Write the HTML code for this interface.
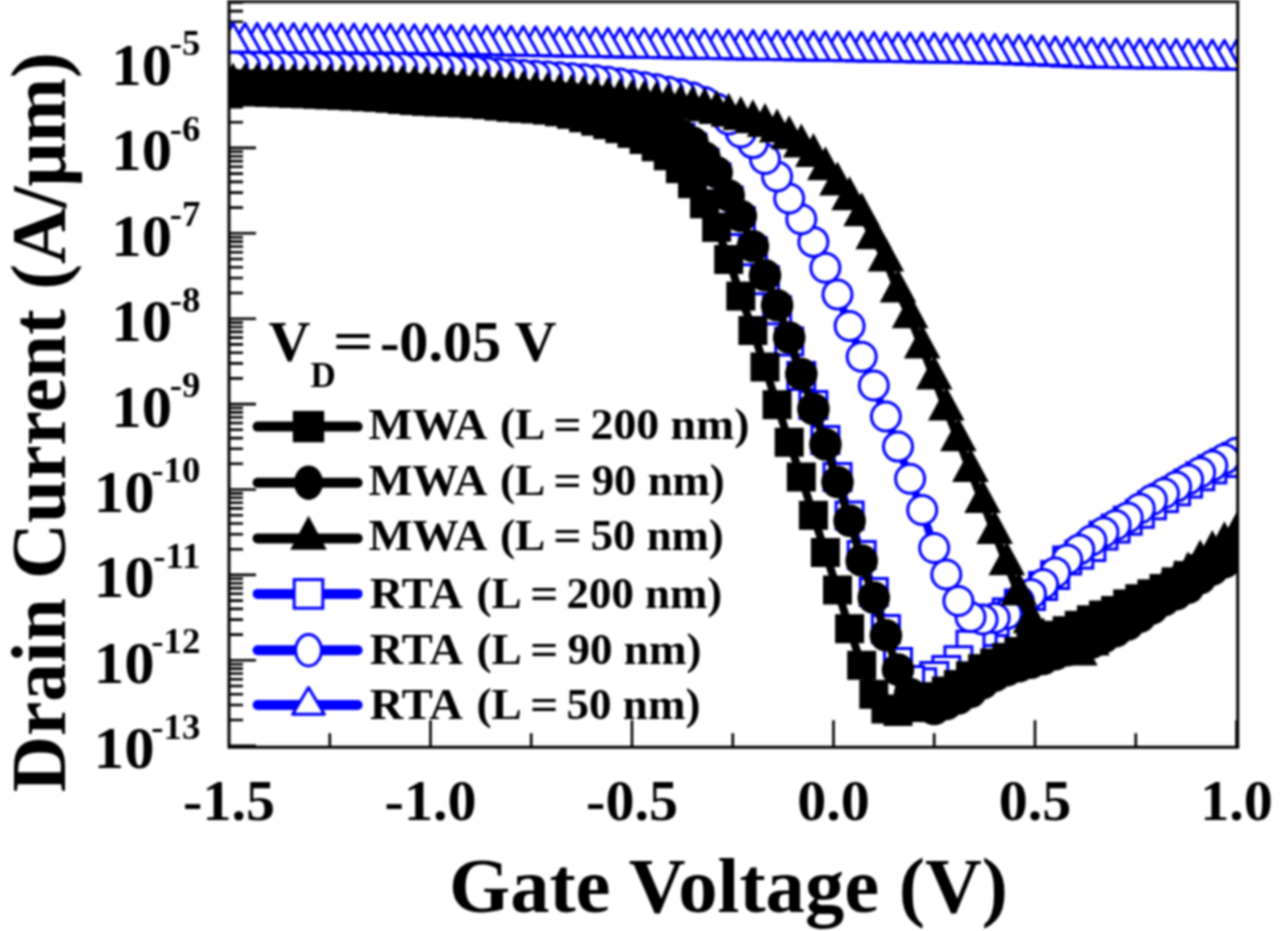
<!DOCTYPE html>
<html><head><meta charset="utf-8"><title>Drain current vs gate voltage</title>
<style>html,body{margin:0;padding:0;background:#fff;width:1280px;height:931px;overflow:hidden} svg{display:block;filter:blur(0.8px)}</style>
</head><body>
<svg width="1280" height="931" viewBox="0 0 1280 931">
<rect width="1280" height="931" fill="#fff"/>
<defs><clipPath id="pc"><rect x="229.0" y="1.2" width="1008.7" height="746.0999999999999"/></clipPath></defs>
<path d="M229.0 745.7h27M229.0 720h14M229.0 705h14M229.0 694.3h14M229.0 686h14M229.0 679.2h14M229.0 673.5h14M229.0 668.6h14M229.0 664.2h14M229.0 660.3h27M229.0 634.6h14M229.0 619.6h14M229.0 608.9h14M229.0 600.6h14M229.0 593.8h14M229.0 588.1h14M229.0 583.2h14M229.0 578.8h14M229.0 574.9h27M229.0 549.2h14M229.0 534.2h14M229.0 523.5h14M229.0 515.2h14M229.0 508.4h14M229.0 502.7h14M229.0 497.8h14M229.0 493.4h14M229.0 489.5h27M229.0 463.8h14M229.0 448.8h14M229.0 438.1h14M229.0 429.8h14M229.0 423h14M229.0 417.3h14M229.0 412.4h14M229.0 408h14M229.0 404.1h27M229.0 378.4h14M229.0 363.4h14M229.0 352.7h14M229.0 344.4h14M229.0 337.6h14M229.0 331.9h14M229.0 327h14M229.0 322.6h14M229.0 318.7h27M229.0 293h14M229.0 278h14M229.0 267.3h14M229.0 259h14M229.0 252.2h14M229.0 246.5h14M229.0 241.6h14M229.0 237.2h14M229.0 233.3h27M229.0 207.6h14M229.0 192.6h14M229.0 181.9h14M229.0 173.6h14M229.0 166.8h14M229.0 161.1h14M229.0 156.2h14M229.0 151.8h14M229.0 147.9h27M229.0 122.2h14M229.0 107.2h14M229.0 96.5h14M229.0 88.2h14M229.0 81.4h14M229.0 75.7h14M229.0 70.8h14M229.0 66.4h14M229.0 62.5h27M229.0 36.8h14M229.0 21.8h14M229.0 11.1h14M229.0 2.8h14M329.8 747.3v-14M430.5 747.3v-27M531.2 747.3v-14M632 747.3v-27M732.8 747.3v-14M833.5 747.3v-27M934.2 747.3v-14M1035 747.3v-27M1135.8 747.3v-14M1236.5 747.3v-27" stroke="#000" stroke-width="2.6" fill="none"/>
<g clip-path="url(#pc)">
<path d="M1236.5 456.8 L1224.4 463 L1212.3 469.4 L1200.2 476.3 L1188.1 483.6 L1176.1 491.3 L1164 498.1 L1151.9 505.3 L1139.8 513.8 L1127.7 520.7 L1115.6 528.6 L1103.5 535.6 L1091.4 547 L1079.3 554.6 L1067.2 560.5 L1055.2 575 L1043.1 586 L1031 596 L1018.9 603.5 L1006.8 612.4 L994.7 622.1 L982.6 632 L970.5 644.7 L958.4 660.2 L946.3 670 L934.2 676 L922.2 682.3 L910.1 680 L898 662 L885.9 629 L873.8 592 L861.7 555 L849.6 515.5 L837.5 477 L825.4 440 L813.4 405 L801.3 376 L789.2 341.5 L777.1 310.3 L765 280.2 L752.9 251.2 L740.8 221 L728.7 200.6 L716.6 177.4 L704.5 162.6 L692.5 147.5 L680.4 137.7 L668.3 129.4 L656.2 121.4 L644.1 115.2 L632 110.6 L619.9 107.3 L607.8 104.5 L595.7 102.4 L583.6 101 L571.5 99.8 L559.5 98.8 L547.4 97.9 L535.3 96.9 L523.2 96 L511.1 95.1 L499 94.3 L486.9 93.6 L474.8 93 L462.7 92.4 L450.6 91.9 L438.6 91.4 L426.5 90.9 L414.4 90.5 L402.3 90.1 L390.2 89.8 L378.1 89.5 L366 89.2 L353.9 89 L341.8 88.8 L329.8 88.6 L317.7 88.4 L305.6 88.3 L293.5 88.1 L281.4 88 L269.3 87.8 L257.2 87.6 L245.1 87.4 L233 87.1" fill="none" stroke="#0000ff" stroke-width="8" stroke-linejoin="round"/>
<rect x="1223" y="443.3" width="27" height="27" fill="#fff" stroke="#0000ff" stroke-width="3"/>
<rect x="1210.9" y="449.5" width="27" height="27" fill="#fff" stroke="#0000ff" stroke-width="3"/>
<rect x="1198.8" y="455.9" width="27" height="27" fill="#fff" stroke="#0000ff" stroke-width="3"/>
<rect x="1186.7" y="462.8" width="27" height="27" fill="#fff" stroke="#0000ff" stroke-width="3"/>
<rect x="1174.6" y="470.1" width="27" height="27" fill="#fff" stroke="#0000ff" stroke-width="3"/>
<rect x="1162.6" y="477.8" width="27" height="27" fill="#fff" stroke="#0000ff" stroke-width="3"/>
<rect x="1150.5" y="484.6" width="27" height="27" fill="#fff" stroke="#0000ff" stroke-width="3"/>
<rect x="1138.4" y="491.8" width="27" height="27" fill="#fff" stroke="#0000ff" stroke-width="3"/>
<rect x="1126.3" y="500.3" width="27" height="27" fill="#fff" stroke="#0000ff" stroke-width="3"/>
<rect x="1114.2" y="507.2" width="27" height="27" fill="#fff" stroke="#0000ff" stroke-width="3"/>
<rect x="1102.1" y="515.1" width="27" height="27" fill="#fff" stroke="#0000ff" stroke-width="3"/>
<rect x="1090" y="522.1" width="27" height="27" fill="#fff" stroke="#0000ff" stroke-width="3"/>
<rect x="1077.9" y="533.5" width="27" height="27" fill="#fff" stroke="#0000ff" stroke-width="3"/>
<rect x="1065.8" y="541.1" width="27" height="27" fill="#fff" stroke="#0000ff" stroke-width="3"/>
<rect x="1053.7" y="547" width="27" height="27" fill="#fff" stroke="#0000ff" stroke-width="3"/>
<rect x="1041.7" y="561.5" width="27" height="27" fill="#fff" stroke="#0000ff" stroke-width="3"/>
<rect x="1029.6" y="572.5" width="27" height="27" fill="#fff" stroke="#0000ff" stroke-width="3"/>
<rect x="1017.5" y="582.5" width="27" height="27" fill="#fff" stroke="#0000ff" stroke-width="3"/>
<rect x="1005.4" y="590" width="27" height="27" fill="#fff" stroke="#0000ff" stroke-width="3"/>
<rect x="993.3" y="598.9" width="27" height="27" fill="#fff" stroke="#0000ff" stroke-width="3"/>
<rect x="981.2" y="608.6" width="27" height="27" fill="#fff" stroke="#0000ff" stroke-width="3"/>
<rect x="969.1" y="618.5" width="27" height="27" fill="#fff" stroke="#0000ff" stroke-width="3"/>
<rect x="957" y="631.2" width="27" height="27" fill="#fff" stroke="#0000ff" stroke-width="3"/>
<rect x="944.9" y="646.7" width="27" height="27" fill="#fff" stroke="#0000ff" stroke-width="3"/>
<rect x="932.8" y="656.5" width="27" height="27" fill="#fff" stroke="#0000ff" stroke-width="3"/>
<rect x="920.8" y="662.5" width="27" height="27" fill="#fff" stroke="#0000ff" stroke-width="3"/>
<rect x="908.7" y="668.8" width="27" height="27" fill="#fff" stroke="#0000ff" stroke-width="3"/>
<rect x="896.6" y="666.5" width="27" height="27" fill="#fff" stroke="#0000ff" stroke-width="3"/>
<rect x="884.5" y="648.5" width="27" height="27" fill="#fff" stroke="#0000ff" stroke-width="3"/>
<rect x="872.4" y="615.5" width="27" height="27" fill="#fff" stroke="#0000ff" stroke-width="3"/>
<rect x="860.3" y="578.5" width="27" height="27" fill="#fff" stroke="#0000ff" stroke-width="3"/>
<rect x="848.2" y="541.5" width="27" height="27" fill="#fff" stroke="#0000ff" stroke-width="3"/>
<rect x="836.1" y="502" width="27" height="27" fill="#fff" stroke="#0000ff" stroke-width="3"/>
<rect x="824" y="463.5" width="27" height="27" fill="#fff" stroke="#0000ff" stroke-width="3"/>
<rect x="811.9" y="426.5" width="27" height="27" fill="#fff" stroke="#0000ff" stroke-width="3"/>
<rect x="799.9" y="391.5" width="27" height="27" fill="#fff" stroke="#0000ff" stroke-width="3"/>
<rect x="787.8" y="362.5" width="27" height="27" fill="#fff" stroke="#0000ff" stroke-width="3"/>
<rect x="775.7" y="328" width="27" height="27" fill="#fff" stroke="#0000ff" stroke-width="3"/>
<rect x="763.6" y="296.8" width="27" height="27" fill="#fff" stroke="#0000ff" stroke-width="3"/>
<rect x="751.5" y="266.7" width="27" height="27" fill="#fff" stroke="#0000ff" stroke-width="3"/>
<rect x="739.4" y="237.7" width="27" height="27" fill="#fff" stroke="#0000ff" stroke-width="3"/>
<rect x="727.3" y="207.5" width="27" height="27" fill="#fff" stroke="#0000ff" stroke-width="3"/>
<rect x="715.2" y="187.1" width="27" height="27" fill="#fff" stroke="#0000ff" stroke-width="3"/>
<rect x="703.1" y="163.9" width="27" height="27" fill="#fff" stroke="#0000ff" stroke-width="3"/>
<rect x="691" y="149.1" width="27" height="27" fill="#fff" stroke="#0000ff" stroke-width="3"/>
<rect x="679" y="134" width="27" height="27" fill="#fff" stroke="#0000ff" stroke-width="3"/>
<rect x="666.9" y="124.2" width="27" height="27" fill="#fff" stroke="#0000ff" stroke-width="3"/>
<rect x="654.8" y="115.9" width="27" height="27" fill="#fff" stroke="#0000ff" stroke-width="3"/>
<rect x="642.7" y="107.9" width="27" height="27" fill="#fff" stroke="#0000ff" stroke-width="3"/>
<rect x="630.6" y="101.7" width="27" height="27" fill="#fff" stroke="#0000ff" stroke-width="3"/>
<rect x="618.5" y="97.1" width="27" height="27" fill="#fff" stroke="#0000ff" stroke-width="3"/>
<rect x="606.4" y="93.8" width="27" height="27" fill="#fff" stroke="#0000ff" stroke-width="3"/>
<rect x="594.3" y="91" width="27" height="27" fill="#fff" stroke="#0000ff" stroke-width="3"/>
<rect x="582.2" y="88.9" width="27" height="27" fill="#fff" stroke="#0000ff" stroke-width="3"/>
<rect x="570.1" y="87.5" width="27" height="27" fill="#fff" stroke="#0000ff" stroke-width="3"/>
<rect x="558" y="86.3" width="27" height="27" fill="#fff" stroke="#0000ff" stroke-width="3"/>
<rect x="546" y="85.3" width="27" height="27" fill="#fff" stroke="#0000ff" stroke-width="3"/>
<rect x="533.9" y="84.4" width="27" height="27" fill="#fff" stroke="#0000ff" stroke-width="3"/>
<rect x="521.8" y="83.4" width="27" height="27" fill="#fff" stroke="#0000ff" stroke-width="3"/>
<rect x="509.7" y="82.5" width="27" height="27" fill="#fff" stroke="#0000ff" stroke-width="3"/>
<rect x="497.6" y="81.6" width="27" height="27" fill="#fff" stroke="#0000ff" stroke-width="3"/>
<rect x="485.5" y="80.8" width="27" height="27" fill="#fff" stroke="#0000ff" stroke-width="3"/>
<rect x="473.4" y="80.1" width="27" height="27" fill="#fff" stroke="#0000ff" stroke-width="3"/>
<rect x="461.3" y="79.5" width="27" height="27" fill="#fff" stroke="#0000ff" stroke-width="3"/>
<rect x="449.2" y="78.9" width="27" height="27" fill="#fff" stroke="#0000ff" stroke-width="3"/>
<rect x="437.1" y="78.4" width="27" height="27" fill="#fff" stroke="#0000ff" stroke-width="3"/>
<rect x="425.1" y="77.9" width="27" height="27" fill="#fff" stroke="#0000ff" stroke-width="3"/>
<rect x="413" y="77.4" width="27" height="27" fill="#fff" stroke="#0000ff" stroke-width="3"/>
<rect x="400.9" y="77" width="27" height="27" fill="#fff" stroke="#0000ff" stroke-width="3"/>
<rect x="388.8" y="76.6" width="27" height="27" fill="#fff" stroke="#0000ff" stroke-width="3"/>
<rect x="376.7" y="76.3" width="27" height="27" fill="#fff" stroke="#0000ff" stroke-width="3"/>
<rect x="364.6" y="76" width="27" height="27" fill="#fff" stroke="#0000ff" stroke-width="3"/>
<rect x="352.5" y="75.7" width="27" height="27" fill="#fff" stroke="#0000ff" stroke-width="3"/>
<rect x="340.4" y="75.5" width="27" height="27" fill="#fff" stroke="#0000ff" stroke-width="3"/>
<rect x="328.3" y="75.3" width="27" height="27" fill="#fff" stroke="#0000ff" stroke-width="3"/>
<rect x="316.2" y="75.1" width="27" height="27" fill="#fff" stroke="#0000ff" stroke-width="3"/>
<rect x="304.2" y="74.9" width="27" height="27" fill="#fff" stroke="#0000ff" stroke-width="3"/>
<rect x="292.1" y="74.8" width="27" height="27" fill="#fff" stroke="#0000ff" stroke-width="3"/>
<rect x="280" y="74.6" width="27" height="27" fill="#fff" stroke="#0000ff" stroke-width="3"/>
<rect x="267.9" y="74.5" width="27" height="27" fill="#fff" stroke="#0000ff" stroke-width="3"/>
<rect x="255.8" y="74.3" width="27" height="27" fill="#fff" stroke="#0000ff" stroke-width="3"/>
<rect x="243.7" y="74.1" width="27" height="27" fill="#fff" stroke="#0000ff" stroke-width="3"/>
<rect x="231.6" y="73.9" width="27" height="27" fill="#fff" stroke="#0000ff" stroke-width="3"/>
<rect x="219.5" y="73.6" width="27" height="27" fill="#fff" stroke="#0000ff" stroke-width="3"/>
<path d="M1236.5 452.8 L1224.4 459.1 L1212.3 465.6 L1200.2 472.3 L1188.1 479.4 L1176.1 486.6 L1164 493.2 L1151.9 500 L1139.8 508.5 L1127.7 517.5 L1115.6 525 L1103.5 532.3 L1091.4 540.5 L1079.3 549.4 L1067.2 559.5 L1055.2 572.5 L1043.1 584.1 L1031 593.9 L1018.9 601 L1006.8 614 L994.7 618 L982.6 619.5 L970.5 617 L958.4 601 L946.3 574.5 L934.2 548 L922.2 510 L910.1 478.8 L898 446.6 L885.9 416.5 L873.8 385.5 L861.7 356.8 L849.6 326 L837.5 294.5 L825.4 267.7 L813.4 241.9 L801.3 219.3 L789.2 198.5 L777.1 176.5 L765 159 L752.9 143.1 L740.8 132.5 L728.7 119.5 L716.6 108.5 L704.5 102 L692.5 97.5 L680.4 94.3 L668.3 91.7 L656.2 89.3 L644.1 87.2 L632 85.3 L619.9 83.5 L607.8 81.8 L595.7 80.3 L583.6 79.2 L571.5 78.2 L559.5 77.3 L547.4 76.5 L535.3 75.7 L523.2 74.9 L511.1 74.1 L499 73.2 L486.9 72.2 L474.8 71.1 L462.7 70.2 L450.6 69.6 L438.6 69.1 L426.5 68.7 L414.4 68.3 L402.3 68 L390.2 67.8 L378.1 67.6 L366 67.5 L353.9 67.3 L341.8 67.2 L329.8 67.1 L317.7 66.9 L305.6 66.8 L293.5 66.7 L281.4 66.6 L269.3 66.5 L257.2 66.4 L245.1 66.2 L233 66.1" fill="none" stroke="#0000ff" stroke-width="8" stroke-linejoin="round"/>
<circle cx="1236.5" cy="452.8" r="14.5" fill="#fff" stroke="#0000ff" stroke-width="3"/>
<circle cx="1224.4" cy="459.1" r="14.5" fill="#fff" stroke="#0000ff" stroke-width="3"/>
<circle cx="1212.3" cy="465.6" r="14.5" fill="#fff" stroke="#0000ff" stroke-width="3"/>
<circle cx="1200.2" cy="472.3" r="14.5" fill="#fff" stroke="#0000ff" stroke-width="3"/>
<circle cx="1188.1" cy="479.4" r="14.5" fill="#fff" stroke="#0000ff" stroke-width="3"/>
<circle cx="1176.1" cy="486.6" r="14.5" fill="#fff" stroke="#0000ff" stroke-width="3"/>
<circle cx="1164" cy="493.2" r="14.5" fill="#fff" stroke="#0000ff" stroke-width="3"/>
<circle cx="1151.9" cy="500" r="14.5" fill="#fff" stroke="#0000ff" stroke-width="3"/>
<circle cx="1139.8" cy="508.5" r="14.5" fill="#fff" stroke="#0000ff" stroke-width="3"/>
<circle cx="1127.7" cy="517.5" r="14.5" fill="#fff" stroke="#0000ff" stroke-width="3"/>
<circle cx="1115.6" cy="525" r="14.5" fill="#fff" stroke="#0000ff" stroke-width="3"/>
<circle cx="1103.5" cy="532.3" r="14.5" fill="#fff" stroke="#0000ff" stroke-width="3"/>
<circle cx="1091.4" cy="540.5" r="14.5" fill="#fff" stroke="#0000ff" stroke-width="3"/>
<circle cx="1079.3" cy="549.4" r="14.5" fill="#fff" stroke="#0000ff" stroke-width="3"/>
<circle cx="1067.2" cy="559.5" r="14.5" fill="#fff" stroke="#0000ff" stroke-width="3"/>
<circle cx="1055.2" cy="572.5" r="14.5" fill="#fff" stroke="#0000ff" stroke-width="3"/>
<circle cx="1043.1" cy="584.1" r="14.5" fill="#fff" stroke="#0000ff" stroke-width="3"/>
<circle cx="1031" cy="593.9" r="14.5" fill="#fff" stroke="#0000ff" stroke-width="3"/>
<circle cx="1018.9" cy="601" r="14.5" fill="#fff" stroke="#0000ff" stroke-width="3"/>
<circle cx="1006.8" cy="614" r="14.5" fill="#fff" stroke="#0000ff" stroke-width="3"/>
<circle cx="994.7" cy="618" r="14.5" fill="#fff" stroke="#0000ff" stroke-width="3"/>
<circle cx="982.6" cy="619.5" r="14.5" fill="#fff" stroke="#0000ff" stroke-width="3"/>
<circle cx="970.5" cy="617" r="14.5" fill="#fff" stroke="#0000ff" stroke-width="3"/>
<circle cx="958.4" cy="601" r="14.5" fill="#fff" stroke="#0000ff" stroke-width="3"/>
<circle cx="946.3" cy="574.5" r="14.5" fill="#fff" stroke="#0000ff" stroke-width="3"/>
<circle cx="934.2" cy="548" r="14.5" fill="#fff" stroke="#0000ff" stroke-width="3"/>
<circle cx="922.2" cy="510" r="14.5" fill="#fff" stroke="#0000ff" stroke-width="3"/>
<circle cx="910.1" cy="478.8" r="14.5" fill="#fff" stroke="#0000ff" stroke-width="3"/>
<circle cx="898" cy="446.6" r="14.5" fill="#fff" stroke="#0000ff" stroke-width="3"/>
<circle cx="885.9" cy="416.5" r="14.5" fill="#fff" stroke="#0000ff" stroke-width="3"/>
<circle cx="873.8" cy="385.5" r="14.5" fill="#fff" stroke="#0000ff" stroke-width="3"/>
<circle cx="861.7" cy="356.8" r="14.5" fill="#fff" stroke="#0000ff" stroke-width="3"/>
<circle cx="849.6" cy="326" r="14.5" fill="#fff" stroke="#0000ff" stroke-width="3"/>
<circle cx="837.5" cy="294.5" r="14.5" fill="#fff" stroke="#0000ff" stroke-width="3"/>
<circle cx="825.4" cy="267.7" r="14.5" fill="#fff" stroke="#0000ff" stroke-width="3"/>
<circle cx="813.4" cy="241.9" r="14.5" fill="#fff" stroke="#0000ff" stroke-width="3"/>
<circle cx="801.3" cy="219.3" r="14.5" fill="#fff" stroke="#0000ff" stroke-width="3"/>
<circle cx="789.2" cy="198.5" r="14.5" fill="#fff" stroke="#0000ff" stroke-width="3"/>
<circle cx="777.1" cy="176.5" r="14.5" fill="#fff" stroke="#0000ff" stroke-width="3"/>
<circle cx="765" cy="159" r="14.5" fill="#fff" stroke="#0000ff" stroke-width="3"/>
<circle cx="752.9" cy="143.1" r="14.5" fill="#fff" stroke="#0000ff" stroke-width="3"/>
<circle cx="740.8" cy="132.5" r="14.5" fill="#fff" stroke="#0000ff" stroke-width="3"/>
<circle cx="728.7" cy="119.5" r="14.5" fill="#fff" stroke="#0000ff" stroke-width="3"/>
<circle cx="716.6" cy="108.5" r="14.5" fill="#fff" stroke="#0000ff" stroke-width="3"/>
<circle cx="704.5" cy="102" r="14.5" fill="#fff" stroke="#0000ff" stroke-width="3"/>
<circle cx="692.5" cy="97.5" r="14.5" fill="#fff" stroke="#0000ff" stroke-width="3"/>
<circle cx="680.4" cy="94.3" r="14.5" fill="#fff" stroke="#0000ff" stroke-width="3"/>
<circle cx="668.3" cy="91.7" r="14.5" fill="#fff" stroke="#0000ff" stroke-width="3"/>
<circle cx="656.2" cy="89.3" r="14.5" fill="#fff" stroke="#0000ff" stroke-width="3"/>
<circle cx="644.1" cy="87.2" r="14.5" fill="#fff" stroke="#0000ff" stroke-width="3"/>
<circle cx="632" cy="85.3" r="14.5" fill="#fff" stroke="#0000ff" stroke-width="3"/>
<circle cx="619.9" cy="83.5" r="14.5" fill="#fff" stroke="#0000ff" stroke-width="3"/>
<circle cx="607.8" cy="81.8" r="14.5" fill="#fff" stroke="#0000ff" stroke-width="3"/>
<circle cx="595.7" cy="80.3" r="14.5" fill="#fff" stroke="#0000ff" stroke-width="3"/>
<circle cx="583.6" cy="79.2" r="14.5" fill="#fff" stroke="#0000ff" stroke-width="3"/>
<circle cx="571.5" cy="78.2" r="14.5" fill="#fff" stroke="#0000ff" stroke-width="3"/>
<circle cx="559.5" cy="77.3" r="14.5" fill="#fff" stroke="#0000ff" stroke-width="3"/>
<circle cx="547.4" cy="76.5" r="14.5" fill="#fff" stroke="#0000ff" stroke-width="3"/>
<circle cx="535.3" cy="75.7" r="14.5" fill="#fff" stroke="#0000ff" stroke-width="3"/>
<circle cx="523.2" cy="74.9" r="14.5" fill="#fff" stroke="#0000ff" stroke-width="3"/>
<circle cx="511.1" cy="74.1" r="14.5" fill="#fff" stroke="#0000ff" stroke-width="3"/>
<circle cx="499" cy="73.2" r="14.5" fill="#fff" stroke="#0000ff" stroke-width="3"/>
<circle cx="486.9" cy="72.2" r="14.5" fill="#fff" stroke="#0000ff" stroke-width="3"/>
<circle cx="474.8" cy="71.1" r="14.5" fill="#fff" stroke="#0000ff" stroke-width="3"/>
<circle cx="462.7" cy="70.2" r="14.5" fill="#fff" stroke="#0000ff" stroke-width="3"/>
<circle cx="450.6" cy="69.6" r="14.5" fill="#fff" stroke="#0000ff" stroke-width="3"/>
<circle cx="438.6" cy="69.1" r="14.5" fill="#fff" stroke="#0000ff" stroke-width="3"/>
<circle cx="426.5" cy="68.7" r="14.5" fill="#fff" stroke="#0000ff" stroke-width="3"/>
<circle cx="414.4" cy="68.3" r="14.5" fill="#fff" stroke="#0000ff" stroke-width="3"/>
<circle cx="402.3" cy="68" r="14.5" fill="#fff" stroke="#0000ff" stroke-width="3"/>
<circle cx="390.2" cy="67.8" r="14.5" fill="#fff" stroke="#0000ff" stroke-width="3"/>
<circle cx="378.1" cy="67.6" r="14.5" fill="#fff" stroke="#0000ff" stroke-width="3"/>
<circle cx="366" cy="67.5" r="14.5" fill="#fff" stroke="#0000ff" stroke-width="3"/>
<circle cx="353.9" cy="67.3" r="14.5" fill="#fff" stroke="#0000ff" stroke-width="3"/>
<circle cx="341.8" cy="67.2" r="14.5" fill="#fff" stroke="#0000ff" stroke-width="3"/>
<circle cx="329.8" cy="67.1" r="14.5" fill="#fff" stroke="#0000ff" stroke-width="3"/>
<circle cx="317.7" cy="66.9" r="14.5" fill="#fff" stroke="#0000ff" stroke-width="3"/>
<circle cx="305.6" cy="66.8" r="14.5" fill="#fff" stroke="#0000ff" stroke-width="3"/>
<circle cx="293.5" cy="66.7" r="14.5" fill="#fff" stroke="#0000ff" stroke-width="3"/>
<circle cx="281.4" cy="66.6" r="14.5" fill="#fff" stroke="#0000ff" stroke-width="3"/>
<circle cx="269.3" cy="66.5" r="14.5" fill="#fff" stroke="#0000ff" stroke-width="3"/>
<circle cx="257.2" cy="66.4" r="14.5" fill="#fff" stroke="#0000ff" stroke-width="3"/>
<circle cx="245.1" cy="66.2" r="14.5" fill="#fff" stroke="#0000ff" stroke-width="3"/>
<circle cx="233" cy="66.1" r="14.5" fill="#fff" stroke="#0000ff" stroke-width="3"/>
<path d="M1236.5 58.4 L1224.4 58.2 L1212.3 58 L1200.2 57.8 L1188.1 57.6 L1176.1 57.4 L1164 57.3 L1151.9 57.2 L1139.8 57 L1127.7 56.9 L1115.6 56.8 L1103.5 56.6 L1091.4 56.3 L1079.3 55.9 L1067.2 55.4 L1055.2 54.8 L1043.1 54.2 L1031 53.6 L1018.9 53.1 L1006.8 52.7 L994.7 52.4 L982.6 52.1 L970.5 51.9 L958.4 51.7 L946.3 51.5 L934.2 51.3 L922.2 51.1 L910.1 51 L898 50.8 L885.9 50.6 L873.8 50.4 L861.7 50.2 L849.6 50 L837.5 49.8 L825.4 49.6 L813.4 49.4 L801.3 49.2 L789.2 49 L777.1 48.8 L765 48.6 L752.9 48.4 L740.8 48.2 L728.7 48 L716.6 47.8 L704.5 47.6 L692.5 47.4 L680.4 47.2 L668.3 47 L656.2 46.8 L644.1 46.6 L632 46.4 L619.9 46.2 L607.8 46 L595.7 45.8 L583.6 45.6 L571.5 45.4 L559.5 45.2 L547.4 45 L535.3 44.8 L523.2 44.6 L511.1 44.3 L499 44.1 L486.9 43.9 L474.8 43.7 L462.7 43.5 L450.6 43.2 L438.6 43 L426.5 42.8 L414.4 42.7 L402.3 42.5 L390.2 42.4 L378.1 42.3 L366 42.2 L353.9 42.1 L341.8 42 L329.8 41.9 L317.7 41.8 L305.6 41.7 L293.5 41.6 L281.4 41.6 L269.3 41.5 L257.2 41.4 L245.1 41.4 L233 41.3" fill="none" stroke="#0000ff" stroke-width="8" stroke-linejoin="round"/>
<path d="M1236.5 40.4L1252.7 69.2L1220.3 69.2Z" fill="#fff" stroke="#0000ff" stroke-width="3" stroke-linejoin="round"/>
<path d="M1224.4 40.2L1240.6 69L1208.2 69Z" fill="#fff" stroke="#0000ff" stroke-width="3" stroke-linejoin="round"/>
<path d="M1212.3 40L1228.5 68.8L1196.1 68.8Z" fill="#fff" stroke="#0000ff" stroke-width="3" stroke-linejoin="round"/>
<path d="M1200.2 39.8L1216.4 68.6L1184 68.6Z" fill="#fff" stroke="#0000ff" stroke-width="3" stroke-linejoin="round"/>
<path d="M1188.1 39.6L1204.3 68.4L1171.9 68.4Z" fill="#fff" stroke="#0000ff" stroke-width="3" stroke-linejoin="round"/>
<path d="M1176.1 39.4L1192.3 68.2L1159.9 68.2Z" fill="#fff" stroke="#0000ff" stroke-width="3" stroke-linejoin="round"/>
<path d="M1164 39.3L1180.2 68.1L1147.8 68.1Z" fill="#fff" stroke="#0000ff" stroke-width="3" stroke-linejoin="round"/>
<path d="M1151.9 39.2L1168.1 68L1135.7 68Z" fill="#fff" stroke="#0000ff" stroke-width="3" stroke-linejoin="round"/>
<path d="M1139.8 39L1156 67.8L1123.6 67.8Z" fill="#fff" stroke="#0000ff" stroke-width="3" stroke-linejoin="round"/>
<path d="M1127.7 38.9L1143.9 67.7L1111.5 67.7Z" fill="#fff" stroke="#0000ff" stroke-width="3" stroke-linejoin="round"/>
<path d="M1115.6 38.8L1131.8 67.6L1099.4 67.6Z" fill="#fff" stroke="#0000ff" stroke-width="3" stroke-linejoin="round"/>
<path d="M1103.5 38.6L1119.7 67.4L1087.3 67.4Z" fill="#fff" stroke="#0000ff" stroke-width="3" stroke-linejoin="round"/>
<path d="M1091.4 38.3L1107.6 67.1L1075.2 67.1Z" fill="#fff" stroke="#0000ff" stroke-width="3" stroke-linejoin="round"/>
<path d="M1079.3 37.9L1095.5 66.7L1063.1 66.7Z" fill="#fff" stroke="#0000ff" stroke-width="3" stroke-linejoin="round"/>
<path d="M1067.2 37.4L1083.4 66.2L1051 66.2Z" fill="#fff" stroke="#0000ff" stroke-width="3" stroke-linejoin="round"/>
<path d="M1055.2 36.8L1071.4 65.6L1039 65.6Z" fill="#fff" stroke="#0000ff" stroke-width="3" stroke-linejoin="round"/>
<path d="M1043.1 36.2L1059.3 65L1026.9 65Z" fill="#fff" stroke="#0000ff" stroke-width="3" stroke-linejoin="round"/>
<path d="M1031 35.6L1047.2 64.4L1014.8 64.4Z" fill="#fff" stroke="#0000ff" stroke-width="3" stroke-linejoin="round"/>
<path d="M1018.9 35.1L1035.1 63.9L1002.7 63.9Z" fill="#fff" stroke="#0000ff" stroke-width="3" stroke-linejoin="round"/>
<path d="M1006.8 34.7L1023 63.5L990.6 63.5Z" fill="#fff" stroke="#0000ff" stroke-width="3" stroke-linejoin="round"/>
<path d="M994.7 34.4L1010.9 63.2L978.5 63.2Z" fill="#fff" stroke="#0000ff" stroke-width="3" stroke-linejoin="round"/>
<path d="M982.6 34.1L998.8 62.9L966.4 62.9Z" fill="#fff" stroke="#0000ff" stroke-width="3" stroke-linejoin="round"/>
<path d="M970.5 33.9L986.7 62.7L954.3 62.7Z" fill="#fff" stroke="#0000ff" stroke-width="3" stroke-linejoin="round"/>
<path d="M958.4 33.7L974.6 62.5L942.2 62.5Z" fill="#fff" stroke="#0000ff" stroke-width="3" stroke-linejoin="round"/>
<path d="M946.3 33.5L962.5 62.3L930.1 62.3Z" fill="#fff" stroke="#0000ff" stroke-width="3" stroke-linejoin="round"/>
<path d="M934.2 33.3L950.5 62.1L918 62.1Z" fill="#fff" stroke="#0000ff" stroke-width="3" stroke-linejoin="round"/>
<path d="M922.2 33.1L938.4 61.9L906 61.9Z" fill="#fff" stroke="#0000ff" stroke-width="3" stroke-linejoin="round"/>
<path d="M910.1 33L926.3 61.8L893.9 61.8Z" fill="#fff" stroke="#0000ff" stroke-width="3" stroke-linejoin="round"/>
<path d="M898 32.8L914.2 61.6L881.8 61.6Z" fill="#fff" stroke="#0000ff" stroke-width="3" stroke-linejoin="round"/>
<path d="M885.9 32.6L902.1 61.4L869.7 61.4Z" fill="#fff" stroke="#0000ff" stroke-width="3" stroke-linejoin="round"/>
<path d="M873.8 32.4L890 61.2L857.6 61.2Z" fill="#fff" stroke="#0000ff" stroke-width="3" stroke-linejoin="round"/>
<path d="M861.7 32.2L877.9 61L845.5 61Z" fill="#fff" stroke="#0000ff" stroke-width="3" stroke-linejoin="round"/>
<path d="M849.6 32L865.8 60.8L833.4 60.8Z" fill="#fff" stroke="#0000ff" stroke-width="3" stroke-linejoin="round"/>
<path d="M837.5 31.8L853.7 60.6L821.3 60.6Z" fill="#fff" stroke="#0000ff" stroke-width="3" stroke-linejoin="round"/>
<path d="M825.4 31.6L841.6 60.4L809.2 60.4Z" fill="#fff" stroke="#0000ff" stroke-width="3" stroke-linejoin="round"/>
<path d="M813.4 31.4L829.6 60.2L797.1 60.2Z" fill="#fff" stroke="#0000ff" stroke-width="3" stroke-linejoin="round"/>
<path d="M801.3 31.2L817.5 60L785.1 60Z" fill="#fff" stroke="#0000ff" stroke-width="3" stroke-linejoin="round"/>
<path d="M789.2 31L805.4 59.8L773 59.8Z" fill="#fff" stroke="#0000ff" stroke-width="3" stroke-linejoin="round"/>
<path d="M777.1 30.8L793.3 59.6L760.9 59.6Z" fill="#fff" stroke="#0000ff" stroke-width="3" stroke-linejoin="round"/>
<path d="M765 30.6L781.2 59.4L748.8 59.4Z" fill="#fff" stroke="#0000ff" stroke-width="3" stroke-linejoin="round"/>
<path d="M752.9 30.4L769.1 59.2L736.7 59.2Z" fill="#fff" stroke="#0000ff" stroke-width="3" stroke-linejoin="round"/>
<path d="M740.8 30.2L757 59L724.6 59Z" fill="#fff" stroke="#0000ff" stroke-width="3" stroke-linejoin="round"/>
<path d="M728.7 30L744.9 58.8L712.5 58.8Z" fill="#fff" stroke="#0000ff" stroke-width="3" stroke-linejoin="round"/>
<path d="M716.6 29.8L732.8 58.6L700.4 58.6Z" fill="#fff" stroke="#0000ff" stroke-width="3" stroke-linejoin="round"/>
<path d="M704.5 29.6L720.7 58.4L688.3 58.4Z" fill="#fff" stroke="#0000ff" stroke-width="3" stroke-linejoin="round"/>
<path d="M692.5 29.4L708.7 58.2L676.2 58.2Z" fill="#fff" stroke="#0000ff" stroke-width="3" stroke-linejoin="round"/>
<path d="M680.4 29.2L696.6 58L664.2 58Z" fill="#fff" stroke="#0000ff" stroke-width="3" stroke-linejoin="round"/>
<path d="M668.3 29L684.5 57.8L652.1 57.8Z" fill="#fff" stroke="#0000ff" stroke-width="3" stroke-linejoin="round"/>
<path d="M656.2 28.8L672.4 57.6L640 57.6Z" fill="#fff" stroke="#0000ff" stroke-width="3" stroke-linejoin="round"/>
<path d="M644.1 28.6L660.3 57.4L627.9 57.4Z" fill="#fff" stroke="#0000ff" stroke-width="3" stroke-linejoin="round"/>
<path d="M632 28.4L648.2 57.2L615.8 57.2Z" fill="#fff" stroke="#0000ff" stroke-width="3" stroke-linejoin="round"/>
<path d="M619.9 28.2L636.1 57L603.7 57Z" fill="#fff" stroke="#0000ff" stroke-width="3" stroke-linejoin="round"/>
<path d="M607.8 28L624 56.8L591.6 56.8Z" fill="#fff" stroke="#0000ff" stroke-width="3" stroke-linejoin="round"/>
<path d="M595.7 27.8L611.9 56.6L579.5 56.6Z" fill="#fff" stroke="#0000ff" stroke-width="3" stroke-linejoin="round"/>
<path d="M583.6 27.6L599.8 56.4L567.4 56.4Z" fill="#fff" stroke="#0000ff" stroke-width="3" stroke-linejoin="round"/>
<path d="M571.5 27.4L587.8 56.2L555.3 56.2Z" fill="#fff" stroke="#0000ff" stroke-width="3" stroke-linejoin="round"/>
<path d="M559.5 27.2L575.7 56L543.3 56Z" fill="#fff" stroke="#0000ff" stroke-width="3" stroke-linejoin="round"/>
<path d="M547.4 27L563.6 55.8L531.2 55.8Z" fill="#fff" stroke="#0000ff" stroke-width="3" stroke-linejoin="round"/>
<path d="M535.3 26.8L551.5 55.6L519.1 55.6Z" fill="#fff" stroke="#0000ff" stroke-width="3" stroke-linejoin="round"/>
<path d="M523.2 26.6L539.4 55.4L507 55.4Z" fill="#fff" stroke="#0000ff" stroke-width="3" stroke-linejoin="round"/>
<path d="M511.1 26.3L527.3 55.1L494.9 55.1Z" fill="#fff" stroke="#0000ff" stroke-width="3" stroke-linejoin="round"/>
<path d="M499 26.1L515.2 54.9L482.8 54.9Z" fill="#fff" stroke="#0000ff" stroke-width="3" stroke-linejoin="round"/>
<path d="M486.9 25.9L503.1 54.7L470.7 54.7Z" fill="#fff" stroke="#0000ff" stroke-width="3" stroke-linejoin="round"/>
<path d="M474.8 25.7L491 54.5L458.6 54.5Z" fill="#fff" stroke="#0000ff" stroke-width="3" stroke-linejoin="round"/>
<path d="M462.7 25.5L478.9 54.3L446.5 54.3Z" fill="#fff" stroke="#0000ff" stroke-width="3" stroke-linejoin="round"/>
<path d="M450.6 25.2L466.8 54L434.4 54Z" fill="#fff" stroke="#0000ff" stroke-width="3" stroke-linejoin="round"/>
<path d="M438.6 25L454.8 53.8L422.4 53.8Z" fill="#fff" stroke="#0000ff" stroke-width="3" stroke-linejoin="round"/>
<path d="M426.5 24.8L442.7 53.6L410.3 53.6Z" fill="#fff" stroke="#0000ff" stroke-width="3" stroke-linejoin="round"/>
<path d="M414.4 24.7L430.6 53.5L398.2 53.5Z" fill="#fff" stroke="#0000ff" stroke-width="3" stroke-linejoin="round"/>
<path d="M402.3 24.5L418.5 53.3L386.1 53.3Z" fill="#fff" stroke="#0000ff" stroke-width="3" stroke-linejoin="round"/>
<path d="M390.2 24.4L406.4 53.2L374 53.2Z" fill="#fff" stroke="#0000ff" stroke-width="3" stroke-linejoin="round"/>
<path d="M378.1 24.3L394.3 53.1L361.9 53.1Z" fill="#fff" stroke="#0000ff" stroke-width="3" stroke-linejoin="round"/>
<path d="M366 24.2L382.2 53L349.8 53Z" fill="#fff" stroke="#0000ff" stroke-width="3" stroke-linejoin="round"/>
<path d="M353.9 24.1L370.1 52.9L337.7 52.9Z" fill="#fff" stroke="#0000ff" stroke-width="3" stroke-linejoin="round"/>
<path d="M341.8 24L358 52.8L325.6 52.8Z" fill="#fff" stroke="#0000ff" stroke-width="3" stroke-linejoin="round"/>
<path d="M329.8 23.9L345.9 52.7L313.6 52.7Z" fill="#fff" stroke="#0000ff" stroke-width="3" stroke-linejoin="round"/>
<path d="M317.7 23.8L333.9 52.6L301.5 52.6Z" fill="#fff" stroke="#0000ff" stroke-width="3" stroke-linejoin="round"/>
<path d="M305.6 23.7L321.8 52.5L289.4 52.5Z" fill="#fff" stroke="#0000ff" stroke-width="3" stroke-linejoin="round"/>
<path d="M293.5 23.6L309.7 52.4L277.3 52.4Z" fill="#fff" stroke="#0000ff" stroke-width="3" stroke-linejoin="round"/>
<path d="M281.4 23.6L297.6 52.4L265.2 52.4Z" fill="#fff" stroke="#0000ff" stroke-width="3" stroke-linejoin="round"/>
<path d="M269.3 23.5L285.5 52.3L253.1 52.3Z" fill="#fff" stroke="#0000ff" stroke-width="3" stroke-linejoin="round"/>
<path d="M257.2 23.4L273.4 52.2L241 52.2Z" fill="#fff" stroke="#0000ff" stroke-width="3" stroke-linejoin="round"/>
<path d="M245.1 23.4L261.3 52.2L228.9 52.2Z" fill="#fff" stroke="#0000ff" stroke-width="3" stroke-linejoin="round"/>
<path d="M233 23.3L249.2 52.1L216.8 52.1Z" fill="#fff" stroke="#0000ff" stroke-width="3" stroke-linejoin="round"/>
<path d="M1236.5 548.8 L1224.4 555.1 L1212.3 561.7 L1200.2 568.7 L1188.1 575.6 L1176.1 581.9 L1164 588.5 L1151.9 593.8 L1139.8 598.7 L1127.7 603.9 L1115.6 610.5 L1103.5 615 L1091.4 619.8 L1079.3 625.3 L1067.2 630.7 L1055.2 635.3 L1043.1 639.7 L1031 644.9 L1018.9 651.5 L1006.8 657.4 L994.7 663 L982.6 668.6 L970.5 675.8 L958.4 684.5 L946.3 691 L934.2 696.6 L922.2 701.7 L910.1 707.5 L898 711.5 L885.9 709 L873.8 694.3 L861.7 665.3 L849.6 628.7 L837.5 590 L825.4 552.5 L813.4 515.3 L801.3 477 L789.2 442.3 L777.1 404.7 L765 367 L752.9 330.5 L740.8 296.1 L728.7 259.5 L716.6 227.4 L704.5 203.8 L692.5 183.8 L680.4 168.8 L668.3 155.8 L656.2 146.8 L644.1 139.5 L632 133.4 L619.9 128.7 L607.8 124.7 L595.7 121.2 L583.6 117.8 L571.5 114.4 L559.5 111.8 L547.4 110.1 L535.3 109 L523.2 108.2 L511.1 107.3 L499 106 L486.9 104.6 L474.8 103.7 L462.7 103 L450.6 102.5 L438.6 102 L426.5 101.4 L414.4 100.6 L402.3 99.5 L390.2 98.3 L378.1 97.4 L366 96.7 L353.9 96 L341.8 95.4 L329.8 94.9 L317.7 94.3 L305.6 93.8 L293.5 93.4 L281.4 92.9 L269.3 92.5 L257.2 92 L245.1 91.6 L233 91.1" fill="none" stroke="#000" stroke-width="8" stroke-linejoin="round"/>
<rect x="1222" y="534.3" width="29" height="29" fill="#000"/>
<rect x="1209.9" y="540.6" width="29" height="29" fill="#000"/>
<rect x="1197.8" y="547.2" width="29" height="29" fill="#000"/>
<rect x="1185.7" y="554.2" width="29" height="29" fill="#000"/>
<rect x="1173.6" y="561.1" width="29" height="29" fill="#000"/>
<rect x="1161.6" y="567.4" width="29" height="29" fill="#000"/>
<rect x="1149.5" y="574" width="29" height="29" fill="#000"/>
<rect x="1137.4" y="579.3" width="29" height="29" fill="#000"/>
<rect x="1125.3" y="584.2" width="29" height="29" fill="#000"/>
<rect x="1113.2" y="589.4" width="29" height="29" fill="#000"/>
<rect x="1101.1" y="596" width="29" height="29" fill="#000"/>
<rect x="1089" y="600.5" width="29" height="29" fill="#000"/>
<rect x="1076.9" y="605.3" width="29" height="29" fill="#000"/>
<rect x="1064.8" y="610.8" width="29" height="29" fill="#000"/>
<rect x="1052.7" y="616.2" width="29" height="29" fill="#000"/>
<rect x="1040.7" y="620.8" width="29" height="29" fill="#000"/>
<rect x="1028.6" y="625.2" width="29" height="29" fill="#000"/>
<rect x="1016.5" y="630.4" width="29" height="29" fill="#000"/>
<rect x="1004.4" y="637" width="29" height="29" fill="#000"/>
<rect x="992.3" y="642.9" width="29" height="29" fill="#000"/>
<rect x="980.2" y="648.5" width="29" height="29" fill="#000"/>
<rect x="968.1" y="654.1" width="29" height="29" fill="#000"/>
<rect x="956" y="661.3" width="29" height="29" fill="#000"/>
<rect x="943.9" y="670" width="29" height="29" fill="#000"/>
<rect x="931.8" y="676.5" width="29" height="29" fill="#000"/>
<rect x="919.8" y="682.1" width="29" height="29" fill="#000"/>
<rect x="907.7" y="687.2" width="29" height="29" fill="#000"/>
<rect x="895.6" y="693" width="29" height="29" fill="#000"/>
<rect x="883.5" y="697" width="29" height="29" fill="#000"/>
<rect x="871.4" y="694.5" width="29" height="29" fill="#000"/>
<rect x="859.3" y="679.8" width="29" height="29" fill="#000"/>
<rect x="847.2" y="650.8" width="29" height="29" fill="#000"/>
<rect x="835.1" y="614.2" width="29" height="29" fill="#000"/>
<rect x="823" y="575.5" width="29" height="29" fill="#000"/>
<rect x="810.9" y="538" width="29" height="29" fill="#000"/>
<rect x="798.9" y="500.8" width="29" height="29" fill="#000"/>
<rect x="786.8" y="462.5" width="29" height="29" fill="#000"/>
<rect x="774.7" y="427.8" width="29" height="29" fill="#000"/>
<rect x="762.6" y="390.2" width="29" height="29" fill="#000"/>
<rect x="750.5" y="352.5" width="29" height="29" fill="#000"/>
<rect x="738.4" y="316" width="29" height="29" fill="#000"/>
<rect x="726.3" y="281.6" width="29" height="29" fill="#000"/>
<rect x="714.2" y="245" width="29" height="29" fill="#000"/>
<rect x="702.1" y="212.9" width="29" height="29" fill="#000"/>
<rect x="690" y="189.3" width="29" height="29" fill="#000"/>
<rect x="678" y="169.2" width="29" height="29" fill="#000"/>
<rect x="665.9" y="154.2" width="29" height="29" fill="#000"/>
<rect x="653.8" y="141.3" width="29" height="29" fill="#000"/>
<rect x="641.7" y="132.3" width="29" height="29" fill="#000"/>
<rect x="629.6" y="125" width="29" height="29" fill="#000"/>
<rect x="617.5" y="118.9" width="29" height="29" fill="#000"/>
<rect x="605.4" y="114.2" width="29" height="29" fill="#000"/>
<rect x="593.3" y="110.2" width="29" height="29" fill="#000"/>
<rect x="581.2" y="106.7" width="29" height="29" fill="#000"/>
<rect x="569.1" y="103.3" width="29" height="29" fill="#000"/>
<rect x="557" y="99.9" width="29" height="29" fill="#000"/>
<rect x="545" y="97.3" width="29" height="29" fill="#000"/>
<rect x="532.9" y="95.6" width="29" height="29" fill="#000"/>
<rect x="520.8" y="94.5" width="29" height="29" fill="#000"/>
<rect x="508.7" y="93.7" width="29" height="29" fill="#000"/>
<rect x="496.6" y="92.8" width="29" height="29" fill="#000"/>
<rect x="484.5" y="91.5" width="29" height="29" fill="#000"/>
<rect x="472.4" y="90.1" width="29" height="29" fill="#000"/>
<rect x="460.3" y="89.2" width="29" height="29" fill="#000"/>
<rect x="448.2" y="88.5" width="29" height="29" fill="#000"/>
<rect x="436.1" y="88" width="29" height="29" fill="#000"/>
<rect x="424.1" y="87.5" width="29" height="29" fill="#000"/>
<rect x="412" y="86.9" width="29" height="29" fill="#000"/>
<rect x="399.9" y="86.1" width="29" height="29" fill="#000"/>
<rect x="387.8" y="85" width="29" height="29" fill="#000"/>
<rect x="375.7" y="83.8" width="29" height="29" fill="#000"/>
<rect x="363.6" y="82.9" width="29" height="29" fill="#000"/>
<rect x="351.5" y="82.2" width="29" height="29" fill="#000"/>
<rect x="339.4" y="81.5" width="29" height="29" fill="#000"/>
<rect x="327.3" y="80.9" width="29" height="29" fill="#000"/>
<rect x="315.2" y="80.4" width="29" height="29" fill="#000"/>
<rect x="303.2" y="79.8" width="29" height="29" fill="#000"/>
<rect x="291.1" y="79.3" width="29" height="29" fill="#000"/>
<rect x="279" y="78.9" width="29" height="29" fill="#000"/>
<rect x="266.9" y="78.4" width="29" height="29" fill="#000"/>
<rect x="254.8" y="78" width="29" height="29" fill="#000"/>
<rect x="242.7" y="77.5" width="29" height="29" fill="#000"/>
<rect x="230.6" y="77.1" width="29" height="29" fill="#000"/>
<rect x="218.5" y="76.6" width="29" height="29" fill="#000"/>
<path d="M1236.5 555.3 L1224.4 562.1 L1212.3 569.5 L1200.2 578.1 L1188.1 587.6 L1176.1 594.3 L1164 600.2 L1151.9 608.5 L1139.8 616.8 L1127.7 624.4 L1115.6 631.2 L1103.5 637.2 L1091.4 642.8 L1079.3 647.2 L1067.2 650.3 L1055.2 654.2 L1043.1 658.9 L1031 662.7 L1018.9 666.1 L1006.8 670.3 L994.7 675.6 L982.6 683.3 L970.5 692 L958.4 698.4 L946.3 704 L934.2 709 L922.2 706 L910.1 694 L898 669.6 L885.9 635.2 L873.8 597.6 L861.7 560.5 L849.6 520.7 L837.5 482 L825.4 444.4 L813.4 409 L801.3 374 L789.2 337.5 L777.1 305.3 L765 275.2 L752.9 246.2 L740.8 216 L728.7 195.6 L716.6 172.4 L704.5 157.6 L692.5 142.5 L680.4 134.7 L668.3 127.6 L656.2 119.5 L644.1 113.2 L632 108.6 L619.9 105.4 L607.8 102.9 L595.7 100.9 L583.6 99.5 L571.5 98.3 L559.5 97.4 L547.4 96.5 L535.3 95.6 L523.2 94.8 L511.1 94 L499 93.3 L486.9 92.6 L474.8 91.9 L462.7 91.1 L450.6 90.4 L438.6 89.7 L426.5 89 L414.4 88.3 L402.3 87.8 L390.2 87.3 L378.1 87 L366 86.7 L353.9 86.4 L341.8 86.2 L329.8 86 L317.7 85.8 L305.6 85.6 L293.5 85.4 L281.4 85.3 L269.3 85.1 L257.2 84.9 L245.1 84.8 L233 84.6" fill="none" stroke="#000" stroke-width="8" stroke-linejoin="round"/>
<circle cx="1236.5" cy="555.3" r="16.3" fill="#000"/>
<circle cx="1224.4" cy="562.1" r="16.3" fill="#000"/>
<circle cx="1212.3" cy="569.5" r="16.3" fill="#000"/>
<circle cx="1200.2" cy="578.1" r="16.3" fill="#000"/>
<circle cx="1188.1" cy="587.6" r="16.3" fill="#000"/>
<circle cx="1176.1" cy="594.3" r="16.3" fill="#000"/>
<circle cx="1164" cy="600.2" r="16.3" fill="#000"/>
<circle cx="1151.9" cy="608.5" r="16.3" fill="#000"/>
<circle cx="1139.8" cy="616.8" r="16.3" fill="#000"/>
<circle cx="1127.7" cy="624.4" r="16.3" fill="#000"/>
<circle cx="1115.6" cy="631.2" r="16.3" fill="#000"/>
<circle cx="1103.5" cy="637.2" r="16.3" fill="#000"/>
<circle cx="1091.4" cy="642.8" r="16.3" fill="#000"/>
<circle cx="1079.3" cy="647.2" r="16.3" fill="#000"/>
<circle cx="1067.2" cy="650.3" r="16.3" fill="#000"/>
<circle cx="1055.2" cy="654.2" r="16.3" fill="#000"/>
<circle cx="1043.1" cy="658.9" r="16.3" fill="#000"/>
<circle cx="1031" cy="662.7" r="16.3" fill="#000"/>
<circle cx="1018.9" cy="666.1" r="16.3" fill="#000"/>
<circle cx="1006.8" cy="670.3" r="16.3" fill="#000"/>
<circle cx="994.7" cy="675.6" r="16.3" fill="#000"/>
<circle cx="982.6" cy="683.3" r="16.3" fill="#000"/>
<circle cx="970.5" cy="692" r="16.3" fill="#000"/>
<circle cx="958.4" cy="698.4" r="16.3" fill="#000"/>
<circle cx="946.3" cy="704" r="16.3" fill="#000"/>
<circle cx="934.2" cy="709" r="16.3" fill="#000"/>
<circle cx="922.2" cy="706" r="16.3" fill="#000"/>
<circle cx="910.1" cy="694" r="16.3" fill="#000"/>
<circle cx="898" cy="669.6" r="16.3" fill="#000"/>
<circle cx="885.9" cy="635.2" r="16.3" fill="#000"/>
<circle cx="873.8" cy="597.6" r="16.3" fill="#000"/>
<circle cx="861.7" cy="560.5" r="16.3" fill="#000"/>
<circle cx="849.6" cy="520.7" r="16.3" fill="#000"/>
<circle cx="837.5" cy="482" r="16.3" fill="#000"/>
<circle cx="825.4" cy="444.4" r="16.3" fill="#000"/>
<circle cx="813.4" cy="409" r="16.3" fill="#000"/>
<circle cx="801.3" cy="374" r="16.3" fill="#000"/>
<circle cx="789.2" cy="337.5" r="16.3" fill="#000"/>
<circle cx="777.1" cy="305.3" r="16.3" fill="#000"/>
<circle cx="765" cy="275.2" r="16.3" fill="#000"/>
<circle cx="752.9" cy="246.2" r="16.3" fill="#000"/>
<circle cx="740.8" cy="216" r="16.3" fill="#000"/>
<circle cx="728.7" cy="195.6" r="16.3" fill="#000"/>
<circle cx="716.6" cy="172.4" r="16.3" fill="#000"/>
<circle cx="704.5" cy="157.6" r="16.3" fill="#000"/>
<circle cx="692.5" cy="142.5" r="16.3" fill="#000"/>
<circle cx="680.4" cy="134.7" r="16.3" fill="#000"/>
<circle cx="668.3" cy="127.6" r="16.3" fill="#000"/>
<circle cx="656.2" cy="119.5" r="16.3" fill="#000"/>
<circle cx="644.1" cy="113.2" r="16.3" fill="#000"/>
<circle cx="632" cy="108.6" r="16.3" fill="#000"/>
<circle cx="619.9" cy="105.4" r="16.3" fill="#000"/>
<circle cx="607.8" cy="102.9" r="16.3" fill="#000"/>
<circle cx="595.7" cy="100.9" r="16.3" fill="#000"/>
<circle cx="583.6" cy="99.5" r="16.3" fill="#000"/>
<circle cx="571.5" cy="98.3" r="16.3" fill="#000"/>
<circle cx="559.5" cy="97.4" r="16.3" fill="#000"/>
<circle cx="547.4" cy="96.5" r="16.3" fill="#000"/>
<circle cx="535.3" cy="95.6" r="16.3" fill="#000"/>
<circle cx="523.2" cy="94.8" r="16.3" fill="#000"/>
<circle cx="511.1" cy="94" r="16.3" fill="#000"/>
<circle cx="499" cy="93.3" r="16.3" fill="#000"/>
<circle cx="486.9" cy="92.6" r="16.3" fill="#000"/>
<circle cx="474.8" cy="91.9" r="16.3" fill="#000"/>
<circle cx="462.7" cy="91.1" r="16.3" fill="#000"/>
<circle cx="450.6" cy="90.4" r="16.3" fill="#000"/>
<circle cx="438.6" cy="89.7" r="16.3" fill="#000"/>
<circle cx="426.5" cy="89" r="16.3" fill="#000"/>
<circle cx="414.4" cy="88.3" r="16.3" fill="#000"/>
<circle cx="402.3" cy="87.8" r="16.3" fill="#000"/>
<circle cx="390.2" cy="87.3" r="16.3" fill="#000"/>
<circle cx="378.1" cy="87" r="16.3" fill="#000"/>
<circle cx="366" cy="86.7" r="16.3" fill="#000"/>
<circle cx="353.9" cy="86.4" r="16.3" fill="#000"/>
<circle cx="341.8" cy="86.2" r="16.3" fill="#000"/>
<circle cx="329.8" cy="86" r="16.3" fill="#000"/>
<circle cx="317.7" cy="85.8" r="16.3" fill="#000"/>
<circle cx="305.6" cy="85.6" r="16.3" fill="#000"/>
<circle cx="293.5" cy="85.4" r="16.3" fill="#000"/>
<circle cx="281.4" cy="85.3" r="16.3" fill="#000"/>
<circle cx="269.3" cy="85.1" r="16.3" fill="#000"/>
<circle cx="257.2" cy="84.9" r="16.3" fill="#000"/>
<circle cx="245.1" cy="84.8" r="16.3" fill="#000"/>
<circle cx="233" cy="84.6" r="16.3" fill="#000"/>
<path d="M1236.5 535 L1224.4 543.9 L1212.3 552.8 L1200.2 562.2 L1188.1 574.3 L1176.1 582.4 L1164 589.7 L1151.9 599.8 L1139.8 610.2 L1127.7 620.1 L1115.6 628.8 L1103.5 634.5 L1091.4 644.3 L1079.3 654.2 L1067.2 652.8 L1055.2 649.1 L1043.1 640 L1031 622 L1018.9 594.1 L1006.8 564 L994.7 532.7 L982.6 501.7 L970.5 470.8 L958.4 439.9 L946.3 409.2 L934.2 378.1 L922.2 347.2 L910.1 317 L898 291.1 L885.9 260.2 L873.8 238 L861.7 214.9 L849.6 199 L837.5 184.2 L825.4 169 L813.4 155.8 L801.3 146.2 L789.2 138 L777.1 131.2 L765 125.8 L752.9 122 L740.8 118.7 L728.7 115.5 L716.6 112.7 L704.5 110.2 L692.5 108.2 L680.4 106.6 L668.3 105.2 L656.2 103.9 L644.1 102.7 L632 101.6 L619.9 100.5 L607.8 99.5 L595.7 98.5 L583.6 97.5 L571.5 96.4 L559.5 95.4 L547.4 94.5 L535.3 93.7 L523.2 92.8 L511.1 92.1 L499 91.4 L486.9 90.8 L474.8 90.2 L462.7 89.6 L450.6 89.1 L438.6 88.5 L426.5 88.1 L414.4 87.6 L402.3 87.2 L390.2 86.9 L378.1 86.7 L366 86.5 L353.9 86.3 L341.8 86.2 L329.8 86 L317.7 85.9 L305.6 85.8 L293.5 85.7 L281.4 85.6 L269.3 85.5 L257.2 85.3 L245.1 85.2 L233 85.1" fill="none" stroke="#000" stroke-width="8" stroke-linejoin="round"/>
<path d="M1236.5 512.3L1254.8 546.3L1218.2 546.3Z" fill="#000"/>
<path d="M1224.4 521.2L1242.7 555.2L1206.1 555.2Z" fill="#000"/>
<path d="M1212.3 530.1L1230.6 564.1L1194 564.1Z" fill="#000"/>
<path d="M1200.2 539.5L1218.5 573.5L1181.9 573.5Z" fill="#000"/>
<path d="M1188.1 551.6L1206.4 585.6L1169.8 585.6Z" fill="#000"/>
<path d="M1176.1 559.7L1194.4 593.7L1157.8 593.7Z" fill="#000"/>
<path d="M1164 567L1182.3 601L1145.7 601Z" fill="#000"/>
<path d="M1151.9 577.1L1170.2 611.1L1133.6 611.1Z" fill="#000"/>
<path d="M1139.8 587.5L1158.1 621.5L1121.5 621.5Z" fill="#000"/>
<path d="M1127.7 597.4L1146 631.4L1109.4 631.4Z" fill="#000"/>
<path d="M1115.6 606.1L1133.9 640.1L1097.3 640.1Z" fill="#000"/>
<path d="M1103.5 611.8L1121.8 645.8L1085.2 645.8Z" fill="#000"/>
<path d="M1091.4 621.6L1109.7 655.6L1073.1 655.6Z" fill="#000"/>
<path d="M1079.3 631.5L1097.6 665.5L1061 665.5Z" fill="#000"/>
<path d="M1067.2 630.1L1085.5 664.1L1048.9 664.1Z" fill="#000"/>
<path d="M1055.2 626.4L1073.5 660.4L1036.9 660.4Z" fill="#000"/>
<path d="M1043.1 617.3L1061.4 651.3L1024.8 651.3Z" fill="#000"/>
<path d="M1031 599.3L1049.3 633.3L1012.7 633.3Z" fill="#000"/>
<path d="M1018.9 571.4L1037.2 605.4L1000.6 605.4Z" fill="#000"/>
<path d="M1006.8 541.3L1025.1 575.3L988.5 575.3Z" fill="#000"/>
<path d="M994.7 510L1013 544L976.4 544Z" fill="#000"/>
<path d="M982.6 479L1000.9 513L964.3 513Z" fill="#000"/>
<path d="M970.5 448.1L988.8 482.1L952.2 482.1Z" fill="#000"/>
<path d="M958.4 417.2L976.7 451.2L940.1 451.2Z" fill="#000"/>
<path d="M946.3 386.5L964.6 420.5L928 420.5Z" fill="#000"/>
<path d="M934.2 355.4L952.5 389.4L916 389.4Z" fill="#000"/>
<path d="M922.2 324.5L940.5 358.5L903.9 358.5Z" fill="#000"/>
<path d="M910.1 294.3L928.4 328.3L891.8 328.3Z" fill="#000"/>
<path d="M898 268.4L916.3 302.4L879.7 302.4Z" fill="#000"/>
<path d="M885.9 237.5L904.2 271.5L867.6 271.5Z" fill="#000"/>
<path d="M873.8 215.3L892.1 249.3L855.5 249.3Z" fill="#000"/>
<path d="M861.7 192.2L880 226.2L843.4 226.2Z" fill="#000"/>
<path d="M849.6 176.3L867.9 210.3L831.3 210.3Z" fill="#000"/>
<path d="M837.5 161.5L855.8 195.5L819.2 195.5Z" fill="#000"/>
<path d="M825.4 146.3L843.7 180.3L807.1 180.3Z" fill="#000"/>
<path d="M813.4 133.1L831.6 167.1L795.1 167.1Z" fill="#000"/>
<path d="M801.3 123.5L819.6 157.5L783 157.5Z" fill="#000"/>
<path d="M789.2 115.3L807.5 149.3L770.9 149.3Z" fill="#000"/>
<path d="M777.1 108.5L795.4 142.5L758.8 142.5Z" fill="#000"/>
<path d="M765 103.1L783.3 137.1L746.7 137.1Z" fill="#000"/>
<path d="M752.9 99.3L771.2 133.3L734.6 133.3Z" fill="#000"/>
<path d="M740.8 96L759.1 130L722.5 130Z" fill="#000"/>
<path d="M728.7 92.8L747 126.8L710.4 126.8Z" fill="#000"/>
<path d="M716.6 90L734.9 124L698.3 124Z" fill="#000"/>
<path d="M704.5 87.5L722.8 121.5L686.2 121.5Z" fill="#000"/>
<path d="M692.5 85.5L710.8 119.5L674.2 119.5Z" fill="#000"/>
<path d="M680.4 83.9L698.7 117.9L662.1 117.9Z" fill="#000"/>
<path d="M668.3 82.5L686.6 116.5L650 116.5Z" fill="#000"/>
<path d="M656.2 81.2L674.5 115.2L637.9 115.2Z" fill="#000"/>
<path d="M644.1 80L662.4 114L625.8 114Z" fill="#000"/>
<path d="M632 78.9L650.3 112.9L613.7 112.9Z" fill="#000"/>
<path d="M619.9 77.8L638.2 111.8L601.6 111.8Z" fill="#000"/>
<path d="M607.8 76.8L626.1 110.8L589.5 110.8Z" fill="#000"/>
<path d="M595.7 75.8L614 109.8L577.4 109.8Z" fill="#000"/>
<path d="M583.6 74.8L601.9 108.8L565.3 108.8Z" fill="#000"/>
<path d="M571.5 73.7L589.8 107.7L553.2 107.7Z" fill="#000"/>
<path d="M559.5 72.7L577.8 106.7L541.2 106.7Z" fill="#000"/>
<path d="M547.4 71.8L565.7 105.8L529.1 105.8Z" fill="#000"/>
<path d="M535.3 71L553.6 105L517 105Z" fill="#000"/>
<path d="M523.2 70.1L541.5 104.1L504.9 104.1Z" fill="#000"/>
<path d="M511.1 69.4L529.4 103.4L492.8 103.4Z" fill="#000"/>
<path d="M499 68.7L517.3 102.7L480.7 102.7Z" fill="#000"/>
<path d="M486.9 68.1L505.2 102.1L468.6 102.1Z" fill="#000"/>
<path d="M474.8 67.5L493.1 101.5L456.5 101.5Z" fill="#000"/>
<path d="M462.7 66.9L481 100.9L444.4 100.9Z" fill="#000"/>
<path d="M450.6 66.4L468.9 100.4L432.3 100.4Z" fill="#000"/>
<path d="M438.6 65.8L456.9 99.8L420.3 99.8Z" fill="#000"/>
<path d="M426.5 65.4L444.8 99.4L408.2 99.4Z" fill="#000"/>
<path d="M414.4 64.9L432.7 98.9L396.1 98.9Z" fill="#000"/>
<path d="M402.3 64.5L420.6 98.5L384 98.5Z" fill="#000"/>
<path d="M390.2 64.2L408.5 98.2L371.9 98.2Z" fill="#000"/>
<path d="M378.1 64L396.4 98L359.8 98Z" fill="#000"/>
<path d="M366 63.8L384.3 97.8L347.7 97.8Z" fill="#000"/>
<path d="M353.9 63.6L372.2 97.6L335.6 97.6Z" fill="#000"/>
<path d="M341.8 63.5L360.1 97.5L323.5 97.5Z" fill="#000"/>
<path d="M329.8 63.3L348.1 97.3L311.4 97.3Z" fill="#000"/>
<path d="M317.7 63.2L336 97.2L299.4 97.2Z" fill="#000"/>
<path d="M305.6 63.1L323.9 97.1L287.3 97.1Z" fill="#000"/>
<path d="M293.5 63L311.8 97L275.2 97Z" fill="#000"/>
<path d="M281.4 62.9L299.7 96.9L263.1 96.9Z" fill="#000"/>
<path d="M269.3 62.8L287.6 96.8L251 96.8Z" fill="#000"/>
<path d="M257.2 62.6L275.5 96.6L238.9 96.6Z" fill="#000"/>
<path d="M245.1 62.5L263.4 96.5L226.8 96.5Z" fill="#000"/>
<path d="M233 62.4L251.3 96.4L214.7 96.4Z" fill="#000"/>
</g>
<path d="M229.0 0V747.3H1237.7V0" fill="none" stroke="#000" stroke-width="3" stroke-linejoin="miter"/>
<rect x="227.5" y="0" width="1011.7" height="3.3" fill="#242424"/>
<text x="200.3" y="55.5" font-family="Liberation Serif, Times New Roman, serif" font-weight="bold" font-size="35" text-anchor="end" transform="translate(200.3 0) scale(1.05 1) translate(-200.3 0)">-5</text>
<text x="172" y="85" font-family="Liberation Serif, Times New Roman, serif" font-weight="bold" font-size="58.5" text-anchor="end" transform="translate(172 0) scale(1.037 1) translate(-172 0)">10</text>
<text x="200.3" y="140.9" font-family="Liberation Serif, Times New Roman, serif" font-weight="bold" font-size="35" text-anchor="end" transform="translate(200.3 0) scale(1.05 1) translate(-200.3 0)">-6</text>
<text x="172" y="170.4" font-family="Liberation Serif, Times New Roman, serif" font-weight="bold" font-size="58.5" text-anchor="end" transform="translate(172 0) scale(1.037 1) translate(-172 0)">10</text>
<text x="200.3" y="226.3" font-family="Liberation Serif, Times New Roman, serif" font-weight="bold" font-size="35" text-anchor="end" transform="translate(200.3 0) scale(1.05 1) translate(-200.3 0)">-7</text>
<text x="172" y="255.8" font-family="Liberation Serif, Times New Roman, serif" font-weight="bold" font-size="58.5" text-anchor="end" transform="translate(172 0) scale(1.037 1) translate(-172 0)">10</text>
<text x="200.3" y="311.7" font-family="Liberation Serif, Times New Roman, serif" font-weight="bold" font-size="35" text-anchor="end" transform="translate(200.3 0) scale(1.05 1) translate(-200.3 0)">-8</text>
<text x="172" y="341.2" font-family="Liberation Serif, Times New Roman, serif" font-weight="bold" font-size="58.5" text-anchor="end" transform="translate(172 0) scale(1.037 1) translate(-172 0)">10</text>
<text x="200.3" y="397.1" font-family="Liberation Serif, Times New Roman, serif" font-weight="bold" font-size="35" text-anchor="end" transform="translate(200.3 0) scale(1.05 1) translate(-200.3 0)">-9</text>
<text x="172" y="426.6" font-family="Liberation Serif, Times New Roman, serif" font-weight="bold" font-size="58.5" text-anchor="end" transform="translate(172 0) scale(1.037 1) translate(-172 0)">10</text>
<text x="200.3" y="482.5" font-family="Liberation Serif, Times New Roman, serif" font-weight="bold" font-size="35" text-anchor="end" transform="translate(200.3 0) scale(1.05 1) translate(-200.3 0)">-10</text>
<text x="154.5" y="512" font-family="Liberation Serif, Times New Roman, serif" font-weight="bold" font-size="58.5" text-anchor="end" transform="translate(154.5 0) scale(1.037 1) translate(-154.5 0)">10</text>
<text x="200.3" y="567.9" font-family="Liberation Serif, Times New Roman, serif" font-weight="bold" font-size="35" text-anchor="end" transform="translate(200.3 0) scale(1.05 1) translate(-200.3 0)">-11</text>
<text x="154.5" y="597.4" font-family="Liberation Serif, Times New Roman, serif" font-weight="bold" font-size="58.5" text-anchor="end" transform="translate(154.5 0) scale(1.037 1) translate(-154.5 0)">10</text>
<text x="200.3" y="653.3" font-family="Liberation Serif, Times New Roman, serif" font-weight="bold" font-size="35" text-anchor="end" transform="translate(200.3 0) scale(1.05 1) translate(-200.3 0)">-12</text>
<text x="154.5" y="682.8" font-family="Liberation Serif, Times New Roman, serif" font-weight="bold" font-size="58.5" text-anchor="end" transform="translate(154.5 0) scale(1.037 1) translate(-154.5 0)">10</text>
<text x="200.3" y="738.7" font-family="Liberation Serif, Times New Roman, serif" font-weight="bold" font-size="35" text-anchor="end" transform="translate(200.3 0) scale(1.05 1) translate(-200.3 0)">-13</text>
<text x="154.5" y="768.2" font-family="Liberation Serif, Times New Roman, serif" font-weight="bold" font-size="58.5" text-anchor="end" transform="translate(154.5 0) scale(1.037 1) translate(-154.5 0)">10</text>
<text x="229" y="820" font-family="Liberation Serif, Times New Roman, serif" font-weight="bold" font-size="58" text-anchor="middle">-1.5</text>
<text x="430.5" y="820" font-family="Liberation Serif, Times New Roman, serif" font-weight="bold" font-size="58" text-anchor="middle">-1.0</text>
<text x="632" y="820" font-family="Liberation Serif, Times New Roman, serif" font-weight="bold" font-size="58" text-anchor="middle">-0.5</text>
<text x="833.5" y="820" font-family="Liberation Serif, Times New Roman, serif" font-weight="bold" font-size="58" text-anchor="middle">0.0</text>
<text x="1035" y="820" font-family="Liberation Serif, Times New Roman, serif" font-weight="bold" font-size="58" text-anchor="middle">0.5</text>
<text x="1236.5" y="820" font-family="Liberation Serif, Times New Roman, serif" font-weight="bold" font-size="58" text-anchor="middle">1.0</text>
<text x="449" y="912.5" font-family="Liberation Serif, Times New Roman, serif" font-weight="bold" font-size="78" transform="translate(449 0) scale(1.008 1) translate(-449 0)">Gate Voltage (V)</text>
<text transform="translate(65 792) rotate(-90)" x="0" y="0" font-family="Liberation Serif, Times New Roman, serif" font-weight="bold" font-size="77.5">Drain Current (A/μm)</text>
<text x="268.5" y="361.5" font-family="Liberation Serif, Times New Roman, serif" font-weight="bold" font-size="57" transform="translate(268.5 0) scale(1.02 1) translate(-268.5 0)">V</text>
<text x="310.5" y="387" font-family="Liberation Serif, Times New Roman, serif" font-weight="bold" font-size="35">D</text>
<text x="332.8" y="360.5" font-family="Liberation Serif, Times New Roman, serif" font-weight="bold" font-size="57" transform="translate(332.8 0) scale(1.26 1) translate(-332.8 0)">=</text>
<text x="380" y="361" font-family="Liberation Serif, Times New Roman, serif" font-weight="bold" font-size="57" transform="translate(380 0) scale(1.02 1) translate(-380 0)">-0.05 V</text>
<path d="M257.6 426.6H357.6" stroke="#000" stroke-width="10" stroke-linecap="round"/>
<rect x="292.8" y="410.9" width="31.4" height="31.4" fill="#000"/>
<text x="368.4" y="438.7" font-family="Liberation Serif, Times New Roman, serif" font-weight="bold" font-size="44.5" transform="translate(368.4 0) scale(1.046 1) translate(-368.4 0)">MWA</text>
<text x="499.9" y="438.7" font-family="Liberation Serif, Times New Roman, serif" font-weight="bold" font-size="44.5" transform="translate(499.9 0) scale(1.02 1) translate(-499.9 0)">(L</text>
<text x="553.3" y="438.7" font-family="Liberation Serif, Times New Roman, serif" font-weight="bold" font-size="44.5" transform="translate(553.3 0) scale(1.12 1) translate(-553.3 0)">=</text>
<text x="590.6" y="438.7" font-family="Liberation Serif, Times New Roman, serif" font-weight="bold" font-size="44.5" transform="translate(590.6 0) scale(1.028 1) translate(-590.6 0)">200 nm)</text>
<path d="M257.6 482.7H357.6" stroke="#000" stroke-width="10" stroke-linecap="round"/>
<ellipse cx="308.5" cy="482.7" rx="14.4" ry="17.2" fill="#000"/>
<text x="368.4" y="495.4" font-family="Liberation Serif, Times New Roman, serif" font-weight="bold" font-size="44.5" transform="translate(368.4 0) scale(1.046 1) translate(-368.4 0)">MWA</text>
<text x="499.9" y="495.4" font-family="Liberation Serif, Times New Roman, serif" font-weight="bold" font-size="44.5" transform="translate(499.9 0) scale(1.02 1) translate(-499.9 0)">(L</text>
<text x="553.3" y="495.4" font-family="Liberation Serif, Times New Roman, serif" font-weight="bold" font-size="44.5" transform="translate(553.3 0) scale(1.12 1) translate(-553.3 0)">=</text>
<text x="591.7" y="495.4" font-family="Liberation Serif, Times New Roman, serif" font-weight="bold" font-size="44.5" transform="translate(591.7 0) scale(1.006 1) translate(-591.7 0)">90 nm)</text>
<path d="M257.6 538.4H357.6" stroke="#000" stroke-width="10" stroke-linecap="round"/>
<path d="M308.5 515.7L326.8 549.7L290.2 549.7Z" fill="#000"/>
<text x="368.4" y="549.8" font-family="Liberation Serif, Times New Roman, serif" font-weight="bold" font-size="44.5" transform="translate(368.4 0) scale(1.046 1) translate(-368.4 0)">MWA</text>
<text x="499.9" y="549.8" font-family="Liberation Serif, Times New Roman, serif" font-weight="bold" font-size="44.5" transform="translate(499.9 0) scale(1.02 1) translate(-499.9 0)">(L</text>
<text x="553.3" y="549.8" font-family="Liberation Serif, Times New Roman, serif" font-weight="bold" font-size="44.5" transform="translate(553.3 0) scale(1.12 1) translate(-553.3 0)">=</text>
<text x="590.7" y="549.8" font-family="Liberation Serif, Times New Roman, serif" font-weight="bold" font-size="44.5" transform="translate(590.7 0) scale(1.006 1) translate(-590.7 0)">50 nm)</text>
<path d="M257.6 593.9H357.6" stroke="#0000ff" stroke-width="10" stroke-linecap="round"/>
<rect x="294.2" y="579.6" width="28.6" height="28.6" fill="#fff" stroke="#0000ff" stroke-width="3"/>
<text x="369.8" y="608.2" font-family="Liberation Serif, Times New Roman, serif" font-weight="bold" font-size="44.5" transform="translate(369.8 0) scale(1.045 1) translate(-369.8 0)">RTA</text>
<text x="476.4" y="608.2" font-family="Liberation Serif, Times New Roman, serif" font-weight="bold" font-size="44.5" transform="translate(476.4 0) scale(1.02 1) translate(-476.4 0)">(L</text>
<text x="530" y="608.2" font-family="Liberation Serif, Times New Roman, serif" font-weight="bold" font-size="44.5" transform="translate(530 0) scale(1.12 1) translate(-530 0)">=</text>
<text x="566.6" y="608.2" font-family="Liberation Serif, Times New Roman, serif" font-weight="bold" font-size="44.5" transform="translate(566.6 0) scale(1.007 1) translate(-566.6 0)">200 nm)</text>
<path d="M257.6 650.3H357.6" stroke="#0000ff" stroke-width="10" stroke-linecap="round"/>
<ellipse cx="308.5" cy="650.3" rx="12.9" ry="15.7" fill="#fff" stroke="#0000ff" stroke-width="3"/>
<text x="369.8" y="663.8" font-family="Liberation Serif, Times New Roman, serif" font-weight="bold" font-size="44.5" transform="translate(369.8 0) scale(1.045 1) translate(-369.8 0)">RTA</text>
<text x="476.4" y="663.8" font-family="Liberation Serif, Times New Roman, serif" font-weight="bold" font-size="44.5" transform="translate(476.4 0) scale(1.02 1) translate(-476.4 0)">(L</text>
<text x="530" y="663.8" font-family="Liberation Serif, Times New Roman, serif" font-weight="bold" font-size="44.5" transform="translate(530 0) scale(1.12 1) translate(-530 0)">=</text>
<text x="567.6" y="663.8" font-family="Liberation Serif, Times New Roman, serif" font-weight="bold" font-size="44.5" transform="translate(567.6 0) scale(1.012 1) translate(-567.6 0)">90 nm)</text>
<path d="M257.6 705H357.6" stroke="#0000ff" stroke-width="10" stroke-linecap="round"/>
<path d="M308.5 687.5L324.4 714.3L292.6 714.3Z" fill="#fff" stroke="#0000ff" stroke-width="3" stroke-linejoin="round"/>
<text x="369.8" y="719.5" font-family="Liberation Serif, Times New Roman, serif" font-weight="bold" font-size="44.5" transform="translate(369.8 0) scale(1.045 1) translate(-369.8 0)">RTA</text>
<text x="476.4" y="719.5" font-family="Liberation Serif, Times New Roman, serif" font-weight="bold" font-size="44.5" transform="translate(476.4 0) scale(1.02 1) translate(-476.4 0)">(L</text>
<text x="530" y="719.5" font-family="Liberation Serif, Times New Roman, serif" font-weight="bold" font-size="44.5" transform="translate(530 0) scale(1.12 1) translate(-530 0)">=</text>
<text x="566.6" y="719.5" font-family="Liberation Serif, Times New Roman, serif" font-weight="bold" font-size="44.5" transform="translate(566.6 0) scale(1.012 1) translate(-566.6 0)">50 nm)</text>
</svg>
</body></html>
